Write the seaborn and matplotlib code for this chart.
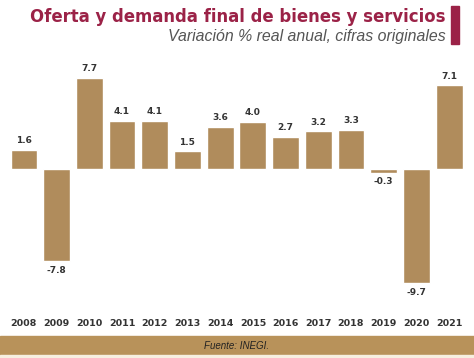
import matplotlib
matplotlib.use("Agg")
import matplotlib.pyplot as plt
import matplotlib.patches as mpatches
import matplotlib.transforms as mtransforms
import seaborn as sns
import pandas as pd

years  = ["2008", "2009", "2010", "2011", "2012", "2013", "2014",
          "2015", "2016", "2017", "2018", "2019", "2020", "2021"]
values = [1.6, -7.8, 7.7, 4.1, 4.1, 1.5, 3.6, 4.0, 2.7, 3.2, 3.3, -0.3, -9.7, 7.1]

title    = "Oferta y demanda final de bienes y servicios"
subtitle = "Variación % real anual, cifras originales"
source   = "Fuente: INEGI."

BAR   = "#b08c5c"
BAND  = "#b8925a"
WINE  = "#9b2247"

df = pd.DataFrame({"year": years, "value": values})

sns.set_style("white")
plt.rcParams["font.family"] = ["DejaVu Sans"]

fig = plt.figure(figsize=(4.74, 3.58), dpi=100, facecolor="white")
ax = fig.add_axes([0.016, 0.182, 0.966, 0.626])

sns.barplot(data=df, x="year", y="value", color=BAR, saturation=1,
            width=0.82, ax=ax)
ax.set_xlim(-0.5, len(years) - 0.5)
ax.set_ylim(-10.5, 8.5)
ax.axis("off")

for i, v in enumerate(values):
    off = 0.4 if v >= 0 else -0.4
    ax.text(i, v + off, f"{v:.1f}", ha="center",
            va="bottom" if v >= 0 else "top",
            fontsize=6.5, fontweight="bold", color="#333333")

# year labels along the bottom
year_tf = mtransforms.blended_transform_factory(ax.transData, fig.transFigure)
for i, y in enumerate(years):
    ax.text(i, 1 - 323 / 358, y, transform=year_tf, ha="center", va="center",
            fontsize=6.8, fontweight="bold", color="#333333")

# header
fig.text(446 / 474, 1 - 17 / 358, title, ha="right", va="center",
         fontsize=11.9, fontweight="bold", color=WINE)
fig.text(446 / 474, 1 - 37 / 358, subtitle, ha="right", va="center",
         fontsize=11.4, style="italic", color="#555555", family="Liberation Sans")
fig.patches.append(mpatches.Rectangle((451 / 474, 1 - 44 / 358), 8 / 474, 38 / 358,
                                      transform=fig.transFigure, color=WINE))

# footer band
fig.patches.append(mpatches.Rectangle((0, 1 - 355 / 358), 1, 19 / 358,
                                      transform=fig.transFigure, color=BAND))
fig.patches.append(mpatches.Rectangle((0, 0), 1, 3 / 358,
                                      transform=fig.transFigure, color="#f7efe0"))
fig.text(0.5, 1 - 346 / 358, source, ha="center", va="center",
         fontsize=7, style="italic", color="#222222", family="Liberation Sans")

fig.savefig("out.png", dpi=100)
